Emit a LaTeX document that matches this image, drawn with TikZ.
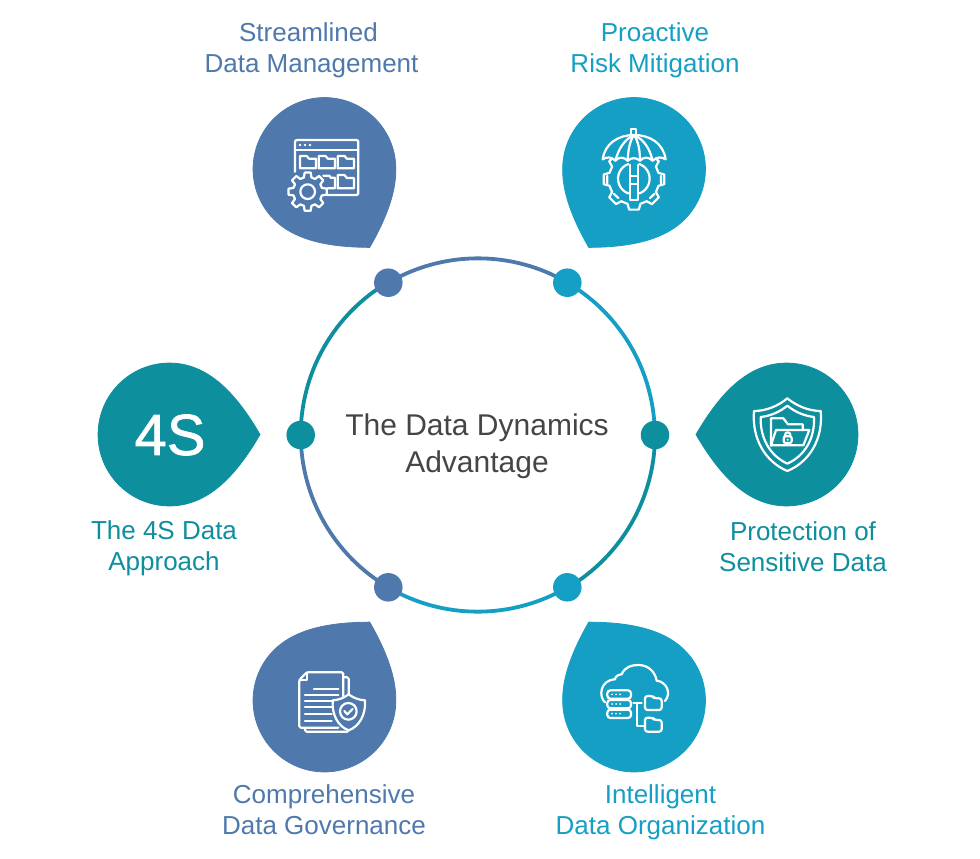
\documentclass[tikz,border=0pt]{standalone}
\usepackage{fontspec}
\setmainfont{Liberation Sans}
\newfontfamily\foursfont[FakeBold=1.2]{Liberation Sans}
\definecolor{cblue}{HTML}{4F79AD}
\definecolor{clight}{HTML}{169FC4}
\definecolor{cteal}{HTML}{0E8F9E}
\definecolor{ctext}{HTML}{454545}
\tikzset{
  ringline/.style={line width=3.8pt},
  ringdot/.style={circle,minimum size=28.5pt,inner sep=0pt},
  iconline/.style={draw=white,line width=2.2pt,line join=round,line cap=round},
  caption/.style={align=center,font=\fontsize{26}{31}\selectfont,inner sep=0pt},
}
\newcommand{\teardrop}[4]{%
  \begin{scope}[shift={(#1,#2)},rotate=#3]
    \filldraw[fill=#4,draw=#4,line width=0.8pt,line join=round]
      (90.5,0) .. controls (70,35) and (42,71.42) .. (0,71.42)
      arc[start angle=-90,end angle=-270,radius=71.42pt]
      .. controls (42,-71.42) and (70,-35) .. (90.5,0) -- cycle;
  \end{scope}}
\newcommand{\cog}[7]{%
  \filldraw[iconline,fill=#7,shift={(#1,#2)}]
    ({#6-0.33*360/#5}:#4)
    \foreach \i in {1,...,#5}{
      -- ({#6+(\i-1)*360/#5-0.33*360/#5}:#4)
      -- ({#6+(\i-1)*360/#5-0.2*360/#5}:#3)
      -- ({#6+(\i-1)*360/#5+0.2*360/#5}:#3)
      -- ({#6+(\i-1)*360/#5+0.33*360/#5}:#4)
    } -- cycle;}
\newcommand{\minifolder}[4]{%
  \draw[iconline] (#1,#2+#4) -- (#1,#2) -- (#1+0.42*#3,#2) -- (#1+0.56*#3,#2+0.22*#4)
    -- (#1+#3,#2+0.22*#4) -- (#1+#3,#2+#4) -- cycle;}
\begin{document}
\begin{tikzpicture}[x=1pt,y=-1pt]
\useasboundingbox (0,0) rectangle (980,859);
\fill[white] (0,0) rectangle (980,859);

% drops
\teardrop{324.5}{169}{-60}{cblue}
\teardrop{634}{169}{-120}{clight}
\teardrop{169.5}{434.5}{0}{cteal}
\teardrop{786.5}{434.5}{180}{cteal}
\teardrop{324.5}{700.5}{60}{cblue}
\teardrop{634}{700.5}{120}{clight}

% ring
\coordinate (p1) at (388.3,282.7);
\coordinate (p2) at (567.3,282.7);
\coordinate (p3) at (655,435);
\coordinate (p4) at (567.3,587.3);
\coordinate (p5) at (388.3,587.3);
\coordinate (p6) at (300.7,435);
\draw[ringline,cblue] (p1) arc[start angle=120.4,end angle=59.6,radius=177.2pt];
\draw[ringline,clight] (p2) arc[start angle=59.6,end angle=0,radius=177.2pt];
\draw[ringline,cteal] (p3) arc[start angle=0,end angle=-59.6,radius=177.2pt];
\draw[ringline,clight] (p4) arc[start angle=-59.6,end angle=-120.4,radius=177.2pt];
\draw[ringline,cblue] (p5) arc[start angle=-120.4,end angle=-180,radius=177.2pt];
\draw[ringline,cteal] (p6) arc[start angle=180,end angle=120.4,radius=177.2pt];
\node[ringdot,fill=cblue] (d1) at (p1) {};
\node[ringdot,fill=clight] (d2) at (p2) {};
\node[ringdot,fill=cteal] (d3) at (p3) {};
\node[ringdot,fill=clight] (d4) at (p4) {};
\node[ringdot,fill=cblue] (d5) at (p5) {};
\node[ringdot,fill=cteal] (d6) at (p6) {};

% texts
\node[align=center,text=ctext,inner sep=0pt,font=\fontsize{30}{37}\selectfont] (centre) at (477,446) {The Data Dynamics\\Advantage};
\node[caption,text=cblue] (t1) at (311.5,50.5) {\hspace*{-6pt}Streamlined\\Data Management};
\node[caption,text=clight] (t2) at (655,50.5) {Proactive\\Risk Mitigation};
\node[caption,text=cteal] (t3) at (164,548.5) {The 4S Data\\Approach};
\node[caption,text=cteal] (t4) at (803,546.5) {Protection of\\Sensitive Data};
\node[caption,text=cblue] (t5) at (324,810) {Comprehensive\\Data Governance};
\node[caption,text=clight] (t6) at (660.5,812) {Intelligent\\Data Organization};
\node[text=white,inner sep=0pt,font=\foursfont\fontsize{58}{60}\selectfont] (four) at (170,435) {4S};

% icon 1: window, folders, gear
\begin{scope}[shift={(240,90)},x=0.33333pt,y=-0.33333pt]
  \draw[iconline,rounded corners=2pt] (165,245) -- (165,150) -- (355,150) -- (355,315) -- (262,315);
  \draw[iconline] (165,180) -- (355,180);
  \fill[white] (180,165) circle[radius=4] (195,165) circle[radius=4] (210,165) circle[radius=4];
  \minifolder{180}{198}{48}{37}
  \minifolder{236}{198}{49}{37}
  \minifolder{293}{198}{49}{37}
  \draw[iconline] (250,257) -- (268,257) -- (272,263) -- (285,263) -- (285,295) -- (262,295);
  \minifolder{293}{255}{49}{40}
  \cog{203}{305}{58}{44}{8}{0}{cblue}
  \draw[iconline] (203,305) circle[radius=22];
\end{scope}

% icon 2: umbrella and gear
\begin{scope}[shift={(550,90)},x=0.33333pt,y=-0.33333pt]
  \cog{252}{268}{92}{76}{8}{0}{clight}
  \draw[iconline] (172,258) -- (172,280) (333,258) -- (333,280)
     (192,312) -- (205,324) (313,312) -- (300,324);
  \draw[iconline] (235,222) arc[start angle=-110,end angle=-250,radius=47];
  \draw[iconline] (268,222) arc[start angle=-70,end angle=70,radius=47];
  \draw[iconline,fill=clight] (240,330) -- (240,282) -- (263,282) -- (263,330) -- cycle;
  \draw[iconline] (240,282) -- (240,225) (263,282) -- (263,225) (240,258) -- (263,258);
  \filldraw[iconline,fill=clight] (158,208) .. controls (165,160) and (205,135) .. (252,135)
     .. controls (300,135) and (340,160) .. (347,208)
     .. controls (335,200) and (320,200) .. (308,212)
     .. controls (295,200) and (282,200) .. (270,212)
     .. controls (258,202) and (245,202) .. (233,212)
     .. controls (220,200) and (208,200) .. (196,212)
     .. controls (185,200) and (170,200) .. (158,208) -- cycle;
  \draw[iconline] (252,135) .. controls (220,150) and (205,180) .. (196,212)
     (252,135) .. controls (238,155) and (234,185) .. (233,212)
     (252,135) .. controls (266,155) and (270,185) .. (270,212)
     (252,135) .. controls (285,150) and (300,180) .. (308,212);
  \draw[iconline] (244,135) -- (244,118) -- (258,118) -- (258,135);
\end{scope}

% icon 3: shield with locked folder
\begin{scope}[shift={(690,355)},x=0.33333pt,y=-0.33333pt]
  \draw[iconline] (292,130) .. controls (262,155) and (225,168) .. (192,168)
     .. controls (185,250) and (225,320) .. (292,348)
     .. controls (360,320) and (400,250) .. (392,168)
     .. controls (360,168) and (322,155) .. (292,130) -- cycle;
  \draw[iconline] (292,152) .. controls (268,172) and (240,183) .. (212,186)
     .. controls (210,250) and (240,302) .. (292,326)
     .. controls (345,302) and (375,250) .. (372,186)
     .. controls (345,183) and (316,172) .. (292,152) -- cycle;
  \draw[iconline] (243,272) -- (243,190) -- (280,190) -- (294,208) -- (338,208) -- (338,225);
  \draw[iconline] (258,225) -- (358,225) -- (340,271) -- (243,271) -- cycle;
  \draw[iconline,rounded corners=2pt] (281,244) rectangle (305,264);
  \draw[iconline] (285,244) -- (285,240) arc[start angle=-180,end angle=0,radius=8] -- (301,244);
  \fill[white] (293,254) circle[radius=3.5];
\end{scope}

% icon 4: document with shield
\begin{scope}[shift={(240,615)},x=0.33333pt,y=-0.33333pt]
  \draw[iconline,rounded corners=1.5pt] (312,187) -- (326,187) -- (326,350) -- (195,350) -- (195,338);
  \draw[iconline,rounded corners=1.5pt] (310,245) -- (310,172) -- (200,172) -- (178,195) -- (178,338) -- (295,338);
  \draw[iconline] (200,172) -- (200,195) -- (178,195);
  \draw[iconline] (222,222) -- (295,222) (195,240) -- (295,240) (195,258) -- (280,258)
     (195,277) -- (275,277) (195,297) -- (275,297) (195,317) -- (275,317);
  \filldraw[iconline,fill=cblue] (326,238) .. controls (310,250) and (295,255) .. (278,256)
     .. controls (275,300) and (295,335) .. (326,346)
     .. controls (357,335) and (378,300) .. (375,256)
     .. controls (358,255) and (342,250) .. (326,238) -- cycle;
  \draw[iconline] (325,289) circle[radius=25];
  \draw[iconline] (313,288) -- (322,298) -- (338,282);
\end{scope}

% icon 5: cloud, servers, folders
\begin{scope}[shift={(550,615)},x=0.33333pt,y=-0.33333pt]
  \draw[iconline] (165,262) .. controls (145,245) and (150,195) .. (195,193)
     .. controls (195,185) and (205,178) .. (215,178)
     .. controls (225,155) and (245,150) .. (265,150)
     .. controls (295,150) and (315,170) .. (320,197)
     .. controls (350,200) and (365,235) .. (345,258);
  \draw[iconline,rounded corners=3pt] (172,226) rectangle (243,251);
  \draw[iconline,rounded corners=3pt] (172,255) rectangle (243,280);
  \draw[iconline,rounded corners=3pt] (172,284) rectangle (243,309);
  \foreach \yy in {238,267,296}{
    \fill[white] (186,\yy) circle[radius=3] (198,\yy) circle[radius=3] (210,\yy) circle[radius=3];
  }
  \draw[iconline] (250,265) -- (275,265) (262,265) -- (262,333) -- (280,333);
  \draw[iconline,rounded corners=2.5pt] (285,285) -- (285,243) -- (308,243) -- (313,250) -- (335,250) -- (335,285) -- cycle;
  \draw[iconline,rounded corners=2.5pt] (285,350) -- (285,308) -- (308,308) -- (313,315) -- (335,315) -- (335,350) -- cycle;
\end{scope}
\end{tikzpicture}
\end{document}
